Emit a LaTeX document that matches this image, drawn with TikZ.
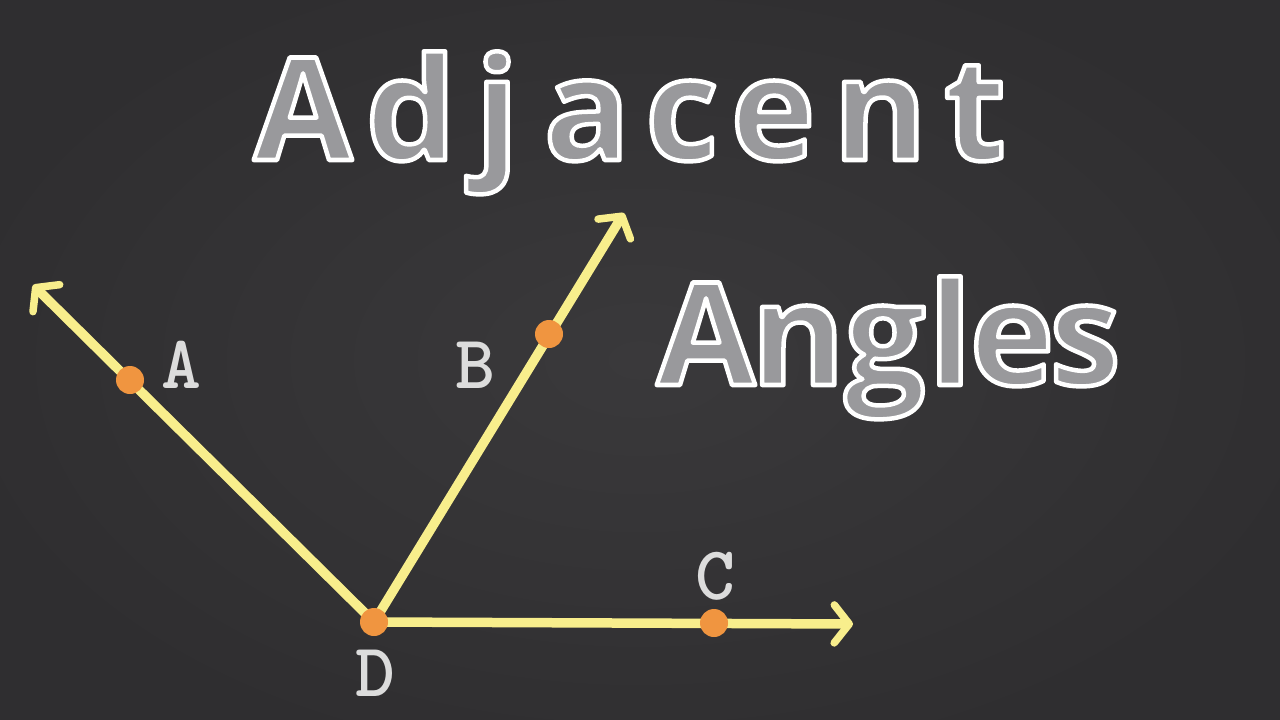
\documentclass[tikz,border=0pt]{standalone}
\usepackage{fontspec}
\newfontfamily\titlefont{Open Sans}
\usetikzlibrary{arrows.meta}
\definecolor{board}{HTML}{2F2E30}
\definecolor{boardlight}{HTML}{3A393B}
\definecolor{ray}{HTML}{F8EE8C}
\definecolor{dotc}{HTML}{F09540}
\definecolor{lbl}{HTML}{DCDCDC}
\newcommand{\chalkglyph}[1]{\special{pdf:literal direct 2 Tr 4.5 w 1 j 1 1 1 RG 0.6 0.6 0.61 rg}#1\special{pdf:literal direct 0 Tr}}
\tikzset{
  raystyle/.style={draw=ray, line width=9.5pt, line cap=round,
    -{Straight Barb[length=15pt,width=38pt,line width=7.5pt,round]}},
  ptdot/.style={circle, fill=dotc, minimum size=28pt, inner sep=0pt},
  ptlabel/.style={text=lbl, inner sep=0pt, font=\fontsize{76}{76}\selectfont\ttfamily\bfseries},
  chalk/.style={anchor=base, inner sep=0pt, text=white, font=\fontsize{143}{143}\selectfont\titlefont\bfseries},
}
\begin{document}
\begin{tikzpicture}[x=1pt,y=-1pt]
\useasboundingbox (0,0) rectangle (1280,720);
\fill[board] (0,0) rectangle (1280,720);
\shade[inner color=boardlight, outer color=board] (640,360) ellipse (700 and 420);
% title
\node[chalk] (t1) at (303,160) {\chalkglyph{A}};
\node[chalk] (t2) at (411,160) {\chalkglyph{d}};
\node[chalk] (t3) at (497,160) {\chalkglyph{j}};
\node[chalk] (t4) at (587,160) {\chalkglyph{a}};
\node[chalk] (t5) at (682,160) {\chalkglyph{c}};
\node[chalk] (t6) at (773,160) {\chalkglyph{e}};
\node[chalk] (t7) at (880,160) {\chalkglyph{n}};
\node[chalk] (t8) at (975,160) {\chalkglyph{t}};
\node[chalk] (u1) at (706,385) {\chalkglyph{A}};
\node[chalk] (u2) at (798,385) {\chalkglyph{n}};
\node[chalk] (u3) at (885,385) {\chalkglyph{g}};
\node[chalk] (u4) at (950,385) {\chalkglyph{l}};
\node[chalk] (u5) at (1012,385) {\chalkglyph{e}};
\node[chalk] (u6) at (1085,385) {\chalkglyph{s}};
% geometry
\coordinate (D0) at (374,622);
\coordinate (tipA) at (33,285);
\coordinate (tipB) at (624,213);
\coordinate (tipC) at (853,624);
\draw[raystyle] (D0) -- (tipA);
\draw[raystyle] (D0) -- (tipB);
\draw[raystyle] (D0) -- (tipC);
\node[ptdot] (D) at (D0) {};
\node[ptdot] (A) at (130,380) {};
\node[ptdot] (B) at (549,334) {};
\node[ptdot] (C) at (714,623) {};
\node[ptlabel] (la) at (181,365) {A};
\node[ptlabel] (lb) at (475,365) {B};
\node[ptlabel] (lc) at (715,576) {C};
\node[ptlabel] (ld) at (375,673) {D};
\end{tikzpicture}
\end{document}
